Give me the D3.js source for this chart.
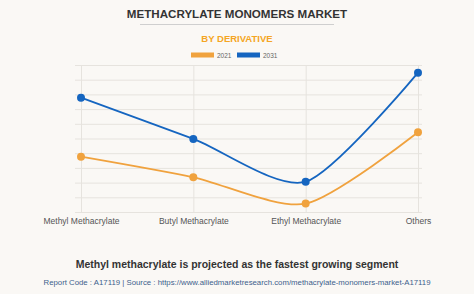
<!DOCTYPE html>
<html lang="en">
<head>
  <meta charset="UTF-8">
  <title>Methacrylate Monomers Market</title>
  <style>
    html, body { margin: 0; padding: 0; background: #faf8f5; }
    svg { display: block; font-family: "Liberation Sans", Arial, sans-serif; }
  </style>
</head>
<body>
  <script src="https://d3js.org/d3.v7.min.js"></script>
  <script>
    // data (grid units, axis has no labels)
    const categories = ['Methyl Methacrylate', 'Butyl Methacrylate', 'Ethyl Methacrylate', 'Others']
    const years = ['2021', '2031']
    const values2021 = [3.76, 2.36, 0.57, 5.42]
    const values2031 = [7.78, 4.97, 2.06, 9.48]
    const colors = ['#f0a23e', '#1565c0']
    const yTicks = d3.range(0, 11)

    const width = 474
    const height = 294
    const m = { left: 81, right: 418, top: 65, bottom: 212 }

    const svg = d3.select('body').append('svg')
      .attr('width', width)
      .attr('height', height)

    // titles
    svg.append('text')
      .attr('x', 237).attr('y', 18)
      .attr('text-anchor', 'middle')
      .attr('font-size', 11.6).attr('font-weight', 'bold')
      .attr('fill', '#333')
      .text('METHACRYLATE MONOMERS MARKET')

    svg.append('line')
      .attr('x1', 140).attr('x2', 334)
      .attr('y1', 24.5).attr('y2', 24.5)
      .attr('stroke', '#cfcfcf')

    svg.append('text')
      .attr('x', 237).attr('y', 42)
      .attr('text-anchor', 'middle')
      .attr('font-size', 9.5).attr('font-weight', 'bold')
      .attr('fill', '#f5a623')
      .text('BY DERIVATIVE')

    // legend
    const legend = svg.append('g')
    const legendX = [191, 237]
    years.forEach((yr, i) => {
      legend.append('rect')
        .attr('x', legendX[i]).attr('y', 52.5)
        .attr('width', 23).attr('height', 5)
        .attr('fill', colors[i])
      legend.append('text')
        .attr('x', legendX[i] + 26).attr('y', 58)
        .attr('font-size', 6.5).attr('fill', '#666')
        .text(yr)
    })

    const x = d3.scalePoint()
      .domain(categories)
      .range([m.left, m.right])

    const y = d3.scaleLinear()
      .domain([0, 10])
      .range([m.bottom, m.top])

    // horizontal grid
    svg.append('g')
      .attr('transform', `translate(${m.left},0)`)
      .call(d3.axisLeft(y).tickValues(yTicks).tickSize(-(m.right - m.left + 4)).tickFormat(''))
      .call(g => g.select('.domain').remove())
      .call(g => g.selectAll('.tick line')
        .attr('x1', -6)
        .attr('stroke', '#e6e3de'))

    // vertical grid + category labels
    svg.append('g')
      .attr('transform', `translate(0,${m.bottom})`)
      .call(d3.axisBottom(x).tickSize(-(m.bottom - m.top)).tickPadding(6))
      .call(g => g.select('.domain').remove())
      .call(g => g.selectAll('.tick line').attr('stroke', '#e6e3de'))
      .call(g => g.selectAll('.tick text')
        .attr('font-size', 8.5)
        .attr('fill', '#555')
        .attr('font-family', '"Liberation Sans", Arial, sans-serif'))

    const line = d3.line()
      .x((d, i) => x(categories[i]))
      .y(d => y(d))
      .curve(d3.curveCardinal.tension(0.25))

    const series = [values2021, values2031]
    series.forEach((vals, s) => {
      svg.append('path')
        .datum(vals)
        .attr('d', line)
        .attr('fill', 'none')
        .attr('stroke', colors[s])
        .attr('stroke-width', 1.8)

      svg.append('g')
        .selectAll('circle')
        .data(vals)
        .join('circle')
        .attr('cx', (d, i) => x(categories[i]))
        .attr('cy', d => y(d))
        .attr('r', 4)
        .attr('fill', colors[s])
    })

    // footer
    svg.append('text')
      .attr('x', 237).attr('y', 268)
      .attr('text-anchor', 'middle')
      .attr('font-size', 10.5).attr('font-weight', 'bold')
      .attr('fill', '#333')
      .text('Methyl methacrylate is projected as the fastest growing segment')

    svg.append('text')
      .attr('x', 237).attr('y', 285)
      .attr('text-anchor', 'middle')
      .attr('font-size', 7.8)
      .attr('fill', '#3d5f8c')
      .text('Report Code : A17119  |  Source : https://www.alliedmarketresearch.com/methacrylate-monomers-market-A17119')
  </script>
</body>
</html>
